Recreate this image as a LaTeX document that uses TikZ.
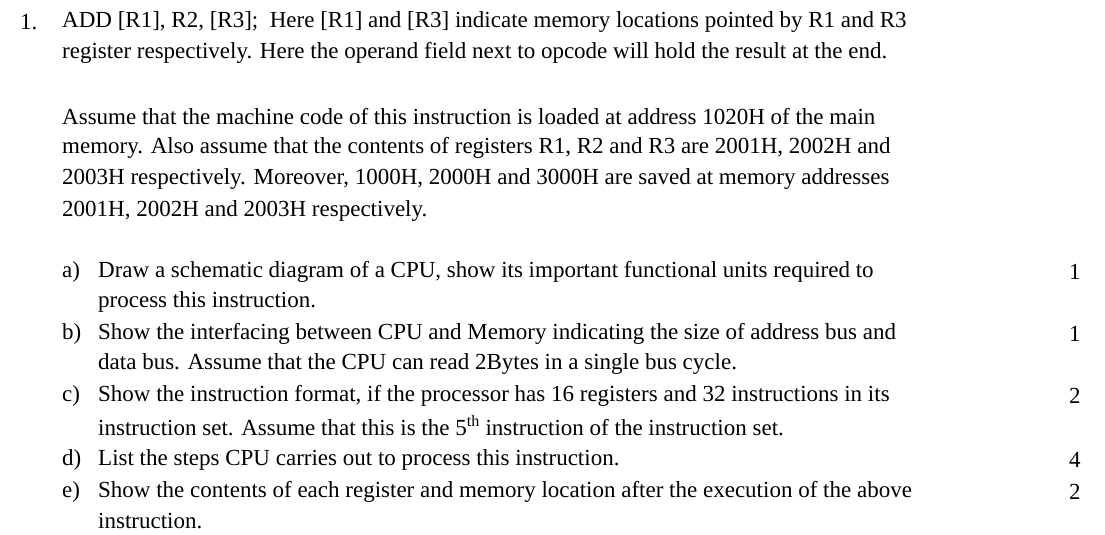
\documentclass[tikz,border=0pt]{standalone}
\usepackage{fontspec}
\setmainfont{Liberation Serif}
\begin{document}
\begin{tikzpicture}[x=1pt,y=-1pt,t/.style={anchor=west,inner sep=0pt,font=\fontsize{23}{27}\selectfont}]
\useasboundingbox[fill=white] (0,0) rectangle (1105,535);
\node[t] (n1) at (20,22) {1.};
\node[t] (l1) at (62,22) {ADD [R1], R2, [R3];\ \ Here [R1] and [R3] indicate memory locations pointed by R1 and R3};
\node[t] (l2) at (62,53) {register respectively. Here the operand field next to opcode will hold the result at the end.};
\node[t] (p1) at (62,117) {Assume that the machine code of this instruction is loaded at address 1020H of the main};
\node[t] (p2) at (62,148) {memory. Also assume that the contents of registers R1, R2 and R3 are 2001H, 2002H and};
\node[t] (p3) at (62,179) {2003H respectively. Moreover, 1000H, 2000H and 3000H are saved at memory addresses};
\node[t] (p4) at (62,211) {2001H, 2002H and 2003H respectively.};
\node[t] (a) at (62,272) {a)};
\node[t] (a1) at (98,272) {Draw a schematic diagram of a CPU, show its important functional units required to};
\node[t] (a2) at (98,302) {process this instruction.};
\node[t] (b) at (62,334) {b)};
\node[t] (b1) at (98,334) {Show the interfacing between CPU and Memory indicating the size of address bus and};
\node[t] (b2) at (98,364) {data bus. Assume that the CPU can read 2Bytes in a single bus cycle.};
\node[t] (c) at (62,396) {c)};
\node[t] (c1) at (98,396) {Show the instruction format, if the processor has 16 registers and 32 instructions in its};
\node[t] (c2) at (98,428) {instruction set. Assume that this is the 5\smash{\textsuperscript{th}} instruction of the instruction set.};
\node[t] (d) at (62,460) {d)};
\node[t] (d1) at (98,460) {List the steps CPU carries out to process this instruction.};
\node[t] (e) at (62,492) {e)};
\node[t] (e1) at (98,492) {Show the contents of each register and memory location after the execution of the above};
\node[t] (e2) at (98,521) {instruction.};
\node[t] (m1) at (1069,272) {1};
\node[t] (m2) at (1069,334) {1};
\node[t] (m3) at (1069,396) {2};
\node[t] (m4) at (1069,460) {4};
\node[t] (m5) at (1069,492) {2};
\end{tikzpicture}
\end{document}
